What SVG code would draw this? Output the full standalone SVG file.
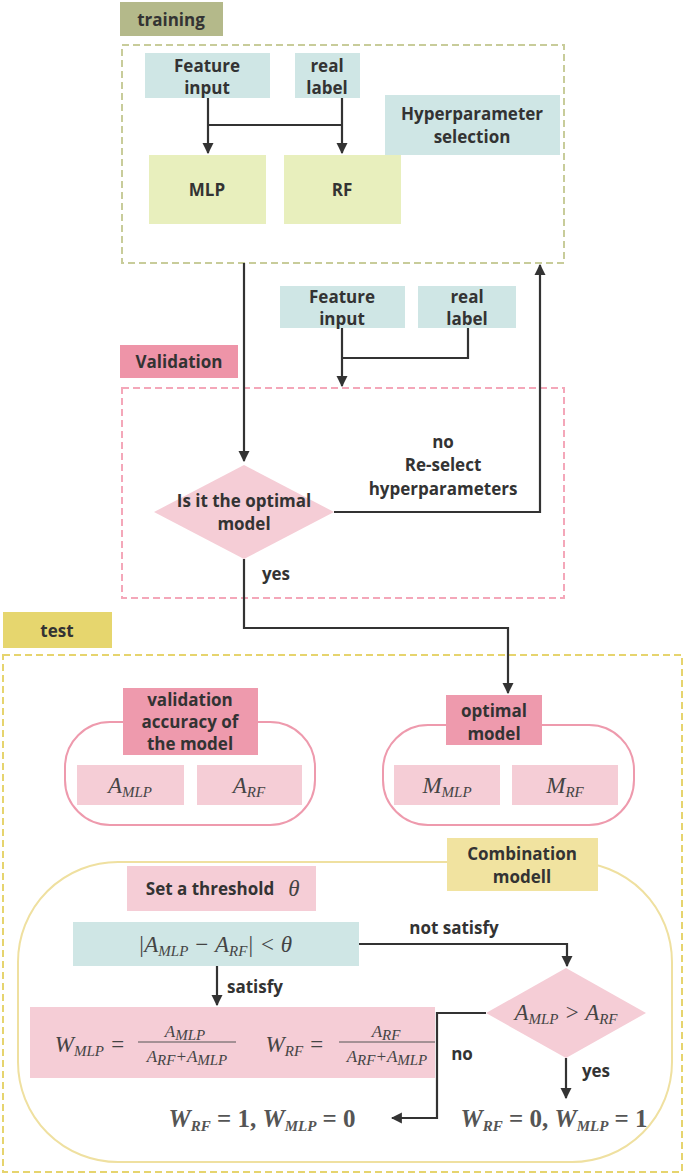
<svg xmlns="http://www.w3.org/2000/svg" width="685" height="1175" viewBox="0 0 685 1175">
<style>
.t{font-family:"Open Sans","Liberation Sans",sans-serif;font-weight:bold;font-size:17px;fill:#333;text-anchor:middle}
.m{font-family:"Liberation Serif",serif;font-style:italic;font-size:23px;fill:#444;text-anchor:middle}
.mb{font-family:"Liberation Serif",serif;font-style:italic;font-weight:bold;font-size:25px;fill:#555;text-anchor:middle}
.s{font-size:15px}
.c{fill:none;stroke:#333;stroke-width:2.2}
.teal{fill:#cfe6e5}.green{fill:#e8efbd}.pink{fill:#f5cdd6}.dpink{fill:#ee9aad}
</style>
<defs><marker id="a" viewBox="0 0 10 10" refX="9" refY="5" markerWidth="5" markerHeight="6" orient="auto" markerUnits="strokeWidth"><path d="M0,0L10,5L0,10z" fill="#333"/></marker></defs>
<rect width="685" height="1175" fill="#fff"/>
<g id="frames" fill="none" stroke-width="2" stroke-dasharray="7,4">
<rect x="122" y="45" width="442" height="218" stroke="#c8cc9a"/>
<rect x="122" y="388" width="442" height="210" stroke="#f4a7b9"/>
<rect x="3" y="655" width="679" height="517" stroke="#e6d46e"/>
</g>
<g id="pills" fill="none" stroke-width="2">
<rect x="65" y="722" width="250" height="103" rx="45" stroke="#ee9aad"/>
<rect x="383" y="725" width="251" height="100" rx="45" stroke="#ee9aad"/>
<rect x="18" y="862" width="654" height="300" rx="100" stroke="#efe0a0"/>
</g>
<g id="training-label"><rect x="120" y="2" width="103" height="34" fill="#b4b98a"/><text class="t" x="171" y="26">training</text></g>
<g id="feat1"><rect class="teal" x="145" y="53" width="125" height="45"/><text class="t" x="207" y="72">Feature</text><text class="t" x="207" y="94">input</text></g>
<g id="label1"><rect class="teal" x="295" y="53" width="65" height="45"/><text class="t" x="327" y="72">real</text><text class="t" x="327" y="94">label</text></g>
<g id="hyper"><rect class="teal" x="385" y="95" width="175" height="60"/><text class="t" x="472" y="120">Hyperparameter</text><text class="t" x="472" y="143">selection</text></g>
<g id="mlp"><rect class="green" x="149" y="155" width="117" height="69"/><text class="t" x="207" y="196">MLP</text></g>
<g id="rf"><rect class="green" x="284" y="155" width="117" height="69"/><text class="t" x="342" y="196">RF</text></g>
<g id="feat2"><rect class="teal" x="280" y="286" width="125" height="42"/><text class="t" x="342" y="303">Feature</text><text class="t" x="342" y="325">input</text></g>
<g id="label2"><rect class="teal" x="418" y="286" width="98" height="42"/><text class="t" x="467" y="303">real</text><text class="t" x="467" y="325">label</text></g>
<g id="validation-label"><rect x="120" y="345" width="118" height="33" fill="#ee94a8"/><text class="t" x="179" y="368">Validation</text></g>
<g id="optimal-q"><polygon points="154,512 244,465 334,512 244,559" class="pink"/><text class="t" x="244" y="507">Is it the optimal</text><text class="t" x="244" y="530">model</text></g>
<g id="test-label"><rect x="3" y="612" width="109" height="36" fill="#e6d66e"/><text class="t" x="57" y="637">test</text></g>
<g id="valacc"><rect class="dpink" x="123" y="688" width="135" height="67"/><text class="t" x="190" y="706">validation</text><text class="t" x="190" y="728">accuracy of</text><text class="t" x="190" y="750">the model</text>
<rect class="pink" x="77" y="765" width="107" height="40"/><text class="m" x="130" y="793">A<tspan class="s" dy="4">MLP</tspan></text>
<rect class="pink" x="197" y="765" width="105" height="40"/><text class="m" x="249" y="793">A<tspan class="s" dy="4">RF</tspan></text></g>
<g id="optmodel"><rect class="dpink" x="446" y="695" width="96" height="50"/><text class="t" x="494" y="717">optimal</text><text class="t" x="494" y="740">model</text>
<rect class="pink" x="394" y="765" width="106" height="40"/><text class="m" x="447" y="793">M<tspan class="s" dy="4">MLP</tspan></text>
<rect class="pink" x="512" y="765" width="106" height="40"/><text class="m" x="565" y="793">M<tspan class="s" dy="4">RF</tspan></text></g>
<g id="combo-label"><rect x="447" y="838" width="151" height="53" fill="#f1e3a0"/><text class="t" x="522" y="860">Combination</text><text class="t" x="522" y="883">modell</text></g>
<g id="threshold"><rect class="pink" x="127" y="866" width="189" height="45"/><text class="t" x="210" y="895">Set a threshold</text><text class="m" x="294" y="896">θ</text></g>
<g id="cond"><rect class="teal" x="73" y="922" width="286" height="44"/><text class="m" x="215" y="952">|A<tspan class="s" dy="4">MLP</tspan><tspan dy="-4"> − A</tspan><tspan class="s" dy="4">RF</tspan><tspan dy="-4">| &lt; θ</tspan></text></g>
<g id="compare"><polygon points="486,1013 566,968 646,1013 566,1058" class="pink"/><text class="m" x="566" y="1020">A<tspan class="s" dy="4">MLP</tspan><tspan dy="-4"> &gt; A</tspan><tspan class="s" dy="4">RF</tspan></text></g>
<g id="weights"><rect class="pink" x="30" y="1007" width="405" height="71"/>
<text class="m" x="90" y="1052">W<tspan class="s" dy="4">MLP</tspan><tspan dy="-4"> =</tspan></text>
<text class="m" style="font-size:17px" x="185" y="1037">A<tspan class="s" dy="3">MLP</tspan></text><line x1="138" y1="1042" x2="236" y2="1042" stroke="#555"/>
<text class="m" style="font-size:17px" x="187" y="1062">A<tspan class="s" dy="3">RF</tspan><tspan dy="-3">+A</tspan><tspan class="s" dy="3">MLP</tspan></text>
<text class="m" x="295" y="1052">W<tspan class="s" dy="4">RF</tspan><tspan dy="-4"> =</tspan></text>
<text class="m" style="font-size:17px" x="386" y="1037">A<tspan class="s" dy="3">RF</tspan></text><line x1="339" y1="1042" x2="435" y2="1042" stroke="#555"/>
<text class="m" style="font-size:17px" x="387" y="1062">A<tspan class="s" dy="3">RF</tspan><tspan dy="-3">+A</tspan><tspan class="s" dy="3">MLP</tspan></text></g>
<g id="res-left"><text class="mb" x="262" y="1127">W<tspan class="s" dy="4">RF</tspan><tspan dy="-4" font-style="normal"> = 1,  </tspan><tspan>W</tspan><tspan class="s" dy="4">MLP</tspan><tspan dy="-4" font-style="normal"> = 0</tspan></text></g>
<g id="res-right"><text class="mb" x="554" y="1127">W<tspan class="s" dy="4">RF</tspan><tspan dy="-4" font-style="normal"> = 0, </tspan><tspan>W</tspan><tspan class="s" dy="4">MLP</tspan><tspan dy="-4" font-style="normal"> = 1</tspan></text></g>
<g id="connectors">
<path class="c" d="M208,98V153" marker-end="url(#a)"/>
<path class="c" d="M208,125H342"/>
<path class="c" d="M342,98V153" marker-end="url(#a)"/>
<path class="c" d="M244,263V461" marker-end="url(#a)"/>
<path class="c" d="M342,328V386" marker-end="url(#a)"/>
<path class="c" d="M342,358H468V328"/>
<path class="c" d="M334,512H540V265" marker-end="url(#a)"/>
<path class="c" d="M244,559V628H508V693" marker-end="url(#a)"/>
<path class="c" d="M359,944H567V966" marker-end="url(#a)"/>
<path class="c" d="M217,966V1005" marker-end="url(#a)"/>
<path class="c" d="M486,1013H437V1118H392" marker-end="url(#a)"/>
<path class="c" d="M566,1058V1098" marker-end="url(#a)"/>
</g>
<g id="labels">
<text class="t" x="443" y="448">no</text><text class="t" x="443" y="471">Re-select</text><text class="t" x="443" y="495">hyperparameters</text>
<text class="t" x="276" y="580">yes</text>
<text class="t" x="454" y="934">not satisfy</text>
<text class="t" x="255" y="993">satisfy</text>
<text class="t" x="462" y="1060">no</text>
<text class="t" x="596" y="1077">yes</text>
</g>
</svg>
